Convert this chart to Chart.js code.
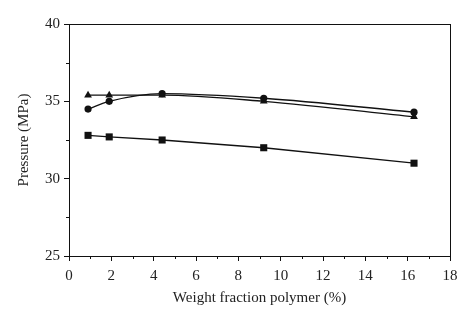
<!DOCTYPE html>
<html>
<head>
<meta charset="utf-8">
<script src="https://cdn.jsdelivr.net/npm/chart.js@4.4.1/dist/chart.umd.min.js"></script>
<style>
    html, body { margin: 0; padding: 0; background: #fff; }
    #wrap { width: 474px; height: 323px; position: relative; }
</style>
</head>
<body>
<div id="wrap"><canvas id="chart"></canvas></div>
<script>
// Data
const xValues = [0.9, 1.9, 4.4, 9.2, 16.3];
const triangleSeries = [35.4, 35.4, 35.4, 35.0, 34.0];
const circleSeries = [34.5, 35.0, 35.5, 35.2, 34.3];
const squareSeries = [32.8, 32.7, 32.5, 32.0, 31.0];

const xTicks = [0, 2, 4, 6, 8, 10, 12, 14, 16, 18];
const yTicks = [25, 30, 35, 40];

const ink = '#111';
const fontFamily = '"Liberation Serif", "DejaVu Serif", serif';

function toPoints(ys) {
    return xValues.map((x, i) => ({ x: x, y: ys[i] }));
}

function series(ys, style, radius, smooth) {
    return {
        data: toPoints(ys),
        showLine: true,
        borderColor: ink,
        backgroundColor: ink,
        borderWidth: 1.3,
        pointStyle: style,
        pointRadius: radius,
        pointHoverRadius: radius,
        pointBorderWidth: 0,
        cubicInterpolationMode: smooth ? 'monotone' : 'default',
        tension: 0
    };
}

// Box around the plot + short minor ticks
const framePlugin = {
    id: 'frame',
    afterDraw(chart) {
        const { ctx, chartArea: a, scales } = chart;
        ctx.save();
        ctx.strokeStyle = ink;
        ctx.lineWidth = 1;
        ctx.strokeRect(a.left + 0.5, a.top + 0.5, a.right - a.left, a.bottom - a.top);
        ctx.beginPath();
        for (let v = 1; v < 18; v += 2) {
            const px = Math.round(scales.x.getPixelForValue(v)) + 0.5;
            ctx.moveTo(px, a.bottom);
            ctx.lineTo(px, a.bottom + 3);
        }
        for (let v = 27.5; v < 40; v += 5) {
            const py = Math.round(scales.y.getPixelForValue(v)) + 0.5;
            ctx.moveTo(a.left, py);
            ctx.lineTo(a.left - 3, py);
        }
        ctx.stroke();
        ctx.restore();
    }
};

new Chart(document.getElementById('chart'), {
    type: 'scatter',
    data: {
        datasets: [
            series(triangleSeries, 'triangle', 4.5, true),
            series(circleSeries, 'circle', 3.6, true),
            series(squareSeries, 'rect', 5, false)
        ]
    },
    options: {
        responsive: true,
        maintainAspectRatio: false,
        animation: false,
        layout: { padding: { left: 0, right: 24, top: 24, bottom: 0 } },
        plugins: {
            legend: { display: false },
            tooltip: { enabled: false }
        },
        scales: {
            x: {
                type: 'linear',
                min: 0,
                max: 18,
                afterFit: s => { s.height = 67; },
                afterBuildTicks: s => { s.ticks = xTicks.map(v => ({ value: v })); },
                grid: { drawOnChartArea: false, tickLength: 5, color: ink, lineWidth: 1 },
                border: { color: ink, width: 1 },
                ticks: { color: '#222', font: { family: fontFamily, size: 15 }, padding: 6, maxRotation: 0 },
                title: {
                    display: true,
                    text: 'Weight fraction polymer (%)',
                    color: '#222',
                    font: { family: fontFamily, size: 15 },
                    padding: { top: 0, bottom: 16 }
                }
            },
            y: {
                type: 'linear',
                min: 25,
                max: 40,
                afterFit: s => { s.width = 69; },
                afterBuildTicks: s => { s.ticks = yTicks.map(v => ({ value: v })); },
                grid: { drawOnChartArea: false, tickLength: 5, color: ink, lineWidth: 1 },
                border: { color: ink, width: 1 },
                ticks: { color: '#222', font: { family: fontFamily, size: 15 }, padding: 4 },
                title: {
                    display: true,
                    text: 'Pressure (MPa)',
                    color: '#222',
                    font: { family: fontFamily, size: 15 },
                    padding: { top: 15, bottom: 0 }
                }
            }
        }
    },
    plugins: [framePlugin]
});
</script>
</body>
</html>
